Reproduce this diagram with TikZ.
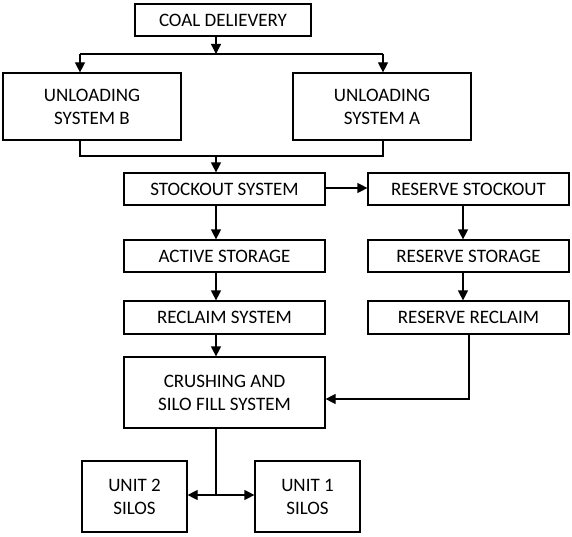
\documentclass[tikz,border=0pt]{standalone}
\usepackage{fontspec}
\setmainfont{Carlito}
\usetikzlibrary{arrows.meta}
\begin{document}
\begin{tikzpicture}[x=1pt,y=-1pt,
  box/.style={draw,line width=1.2pt,inner sep=0pt,align=center,
    font=\fontsize{19}{23}\selectfont},
  wide/.style={box,minimum width=201pt,minimum height=32pt},
  arr/.style={-{Triangle[length=10pt,width=10pt]},line width=1.2pt},
  line/.style={line width=1.2pt}]
\useasboundingbox (0,0) rectangle (572,537);
\node[box,minimum width=176pt,minimum height=32pt] (coal) at (223,20) {COAL DELIEVERY};
\node[box,minimum width=178pt,minimum height=67pt] (ub) at (92,106.5) {UNLOADING\\SYSTEM B};
\node[box,minimum width=178pt,minimum height=67pt] (ua) at (382,106.5) {UNLOADING\\SYSTEM A};
\node[wide] (stock) at (224.5,189) {STOCKOUT SYSTEM};
\node[wide] (rstock) at (468.5,189) {RESERVE STOCKOUT};
\node[wide] (active) at (224.5,256) {ACTIVE STORAGE};
\node[wide] (rstor) at (468.5,256) {RESERVE STORAGE};
\node[wide,minimum height=33pt] (reclaim) at (224.5,317.5) {RECLAIM SYSTEM};
\node[wide,minimum height=33pt] (rrecl) at (468.5,317.5) {RESERVE RECLAIM};
\node[box,minimum width=201pt,minimum height=71pt] (crush) at (224.5,392.5) {CRUSHING AND\\SILO FILL SYSTEM};
\node[box,minimum width=105pt,minimum height=71pt] (u2) at (134.5,496.5) {UNIT 2\\SILOS};
\node[box,minimum width=105pt,minimum height=71pt] (u1) at (307.5,496.5) {UNIT 1\\SILOS};
% junction coordinates
\coordinate (j1) at (216,54);
\coordinate (cb1) at (80,54);
\coordinate (ca1) at (383,54);
\coordinate (cb2) at (80,156);
\coordinate (ca2) at (383,156);
\coordinate (j2) at (216,156);
\coordinate (rx) at (463,0);
\coordinate (rr) at (469,399);
\coordinate (j3) at (216,495);
% connectors
\draw[arr] (coal.south -| j1) -- (j1);
\draw[line] (cb1) -- (ca1);
\draw[arr] (cb1) -- (cb1 |- ub.north);
\draw[arr] (ca1) -- (ca1 |- ua.north);
\draw[line] (ub.south -| cb2) -- (cb2) -- (ca2) -- (ua.south -| ca2);
\draw[arr] (j2) -- (j2 |- stock.north);
\draw[arr] (stock.east |- 0,188) -- (rstock.west |- 0,188);
\draw[arr] (stock.south -| j2) -- (active.north -| j2);
\draw[arr] (active.south -| j2) -- (reclaim.north -| j2);
\draw[arr] (reclaim.south -| j2) -- (crush.north -| j2);
\draw[arr] (rstock.south -| rx) -- (rstor.north -| rx);
\draw[arr] (rstor.south -| rx) -- (rrecl.north -| rx);
\draw[arr] (rrecl.south -| rr) -- (rr) -- (crush.east |- rr);
\draw[line] (crush.south -| j3) -- (j3);
\draw[arr] (j3) -- (u2.east |- j3);
\draw[arr] (j3) -- (u1.west |- j3);
\end{tikzpicture}
\end{document}
